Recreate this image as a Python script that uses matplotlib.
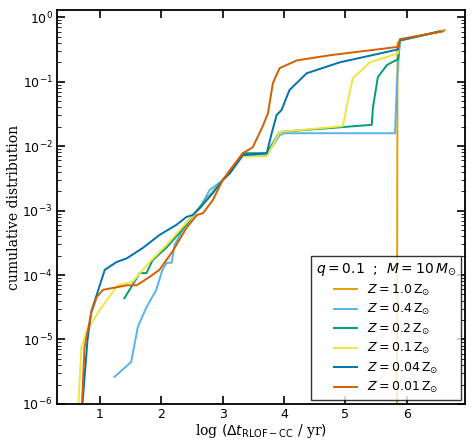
import numpy as np
import matplotlib.pyplot as plt

# log(dt) and log10(cumulative)
z001_x = [0.70, 0.75, 0.86, 0.95, 1.05, 1.44, 1.6, 1.81, 1.97, 2.18, 2.41, 2.58, 2.68, 2.84, 3.0,
          3.12, 3.33, 3.49, 3.65, 3.74, 3.82, 3.93, 4.21, 4.75, 5.86, 5.89, 6.59]
z001_y = [-6.2, -5.12, -4.59, -4.34, -4.23, -4.16, -4.16, -4.03, -3.92, -3.64, -3.27, -3.07, -3.04, -2.84, -2.53,
          -2.37, -2.11, -2.02, -1.7, -1.49, -1.02, -0.79, -0.67, -0.59, -0.46, -0.34, -0.22]

z004_x = [0.70, 0.80, 0.86, 1.08, 1.27, 1.44, 1.70, 1.97, 2.25, 2.41, 2.51, 2.63, 2.84, 3.0,
          3.12, 3.33, 3.72, 3.80, 3.88, 3.96, 4.09, 4.37, 4.91, 5.86, 5.89, 6.54]
z004_y = [-6.2, -5.0, -4.57, -3.92, -3.8, -3.74, -3.58, -3.38, -3.22, -3.1, -3.07, -2.96, -2.73, -2.53,
          -2.42, -2.14, -2.11, -1.8, -1.52, -1.44, -1.13, -0.87, -0.70, -0.5, -0.36, -0.22]

z01_x = [0.64, 0.70, 0.78, 1.0, 1.29, 1.53, 1.81, 2.09, 2.41, 2.63, 3.0,
         3.12, 3.33, 3.72, 3.93, 4.96, 5.02, 5.12, 5.4, 5.86, 5.89, 6.6]
z01_y = [-6.2, -5.12, -4.88, -4.54, -4.16, -4.11, -3.8, -3.53, -3.19, -2.96, -2.53,
         -2.42, -2.16, -2.16, -1.78, -1.69, -1.4, -0.95, -0.70, -0.56, -0.36, -0.21]

z02_x = [1.40, 1.65, 1.76, 1.86, 2.09, 2.41, 2.63, 3.0, 3.12, 3.33, 3.72, 3.93, 4.75,
         5.43, 5.45, 5.53, 5.68, 5.86, 5.89, 6.6]
z02_y = [-4.36, -3.97, -3.97, -3.77, -3.57, -3.22, -2.94, -2.53, -2.4, -2.11, -2.11, -1.78, -1.72,
         -1.67, -1.4, -0.93, -0.74, -0.65, -0.36, -0.21]

z04_x = [1.24, 1.51, 1.62, 1.76, 1.92, 2.02, 2.09, 2.17, 2.22, 2.41, 2.63, 2.79, 3.0,
         3.12, 3.33, 3.72, 3.93, 4.01, 5.81, 5.84, 5.89, 6.6]
z04_y = [-5.58, -5.35, -4.8, -4.5, -4.23, -3.92, -3.81, -3.81, -3.53, -3.19, -2.96, -2.68, -2.53,
         -2.4, -2.14, -2.14, -1.83, -1.8, -1.8, -1.02, -0.36, -0.21]

z10_x = [5.84, 5.85, 5.89, 6.62]
z10_y = [-7.0, -0.40, -0.36, -0.20]

series = [
    ('1.0', z10_x, z10_y, '#E69F00'),
    ('0.4', z04_x, z04_y, '#56B4E9'),
    ('0.2', z02_x, z02_y, '#009E73'),
    ('0.1', z01_x, z01_y, '#F0E442'),
    ('0.04', z004_x, z004_y, '#0072B2'),
    ('0.01', z001_x, z001_y, '#D55E00'),
]

fig = plt.figure(figsize=(4.74, 4.4), dpi=100)
ax = fig.add_axes([0.12, 0.082, 0.861, 0.895])

for z, xs, ys, col in series:
    ax.plot(xs, 10 ** np.array(ys), color=col, lw=1.4,
            label=r'$Z = %s\,\mathrm{Z}_{\odot}$' % z)

ax.set_yscale('log')
ax.set_xlim(0.3, 6.95)
ax.set_ylim(1e-6, 10 ** 0.11)
ax.set_xticks([1, 2, 3, 4, 5, 6])
ax.tick_params(which='both', direction='in', top=True, right=True, labelsize=9, pad=3)
ax.tick_params(which='major', length=6, width=1.2)
ax.tick_params(which='minor', length=3)
for s in ax.spines.values():
    s.set_linewidth(1.3)
ax.set_xlabel(r'log $(\Delta t_{\mathrm{RLOF-CC}}$ / yr$)$', family='serif', fontsize=10, labelpad=1)
ax.set_ylabel('cumulative distribution', family='serif', fontsize=10, labelpad=1)

leg = ax.legend(loc='lower right', title=r'$q = 0.1$  ;  $M = 10\,M_{\odot}$',
                fontsize=9, title_fontsize=10, fancybox=False, edgecolor='black',
                borderaxespad=0.3, handlelength=1.8, labelspacing=0.35)
leg.get_frame().set_linewidth(1.0)

fig.savefig('out.png', dpi=100)
